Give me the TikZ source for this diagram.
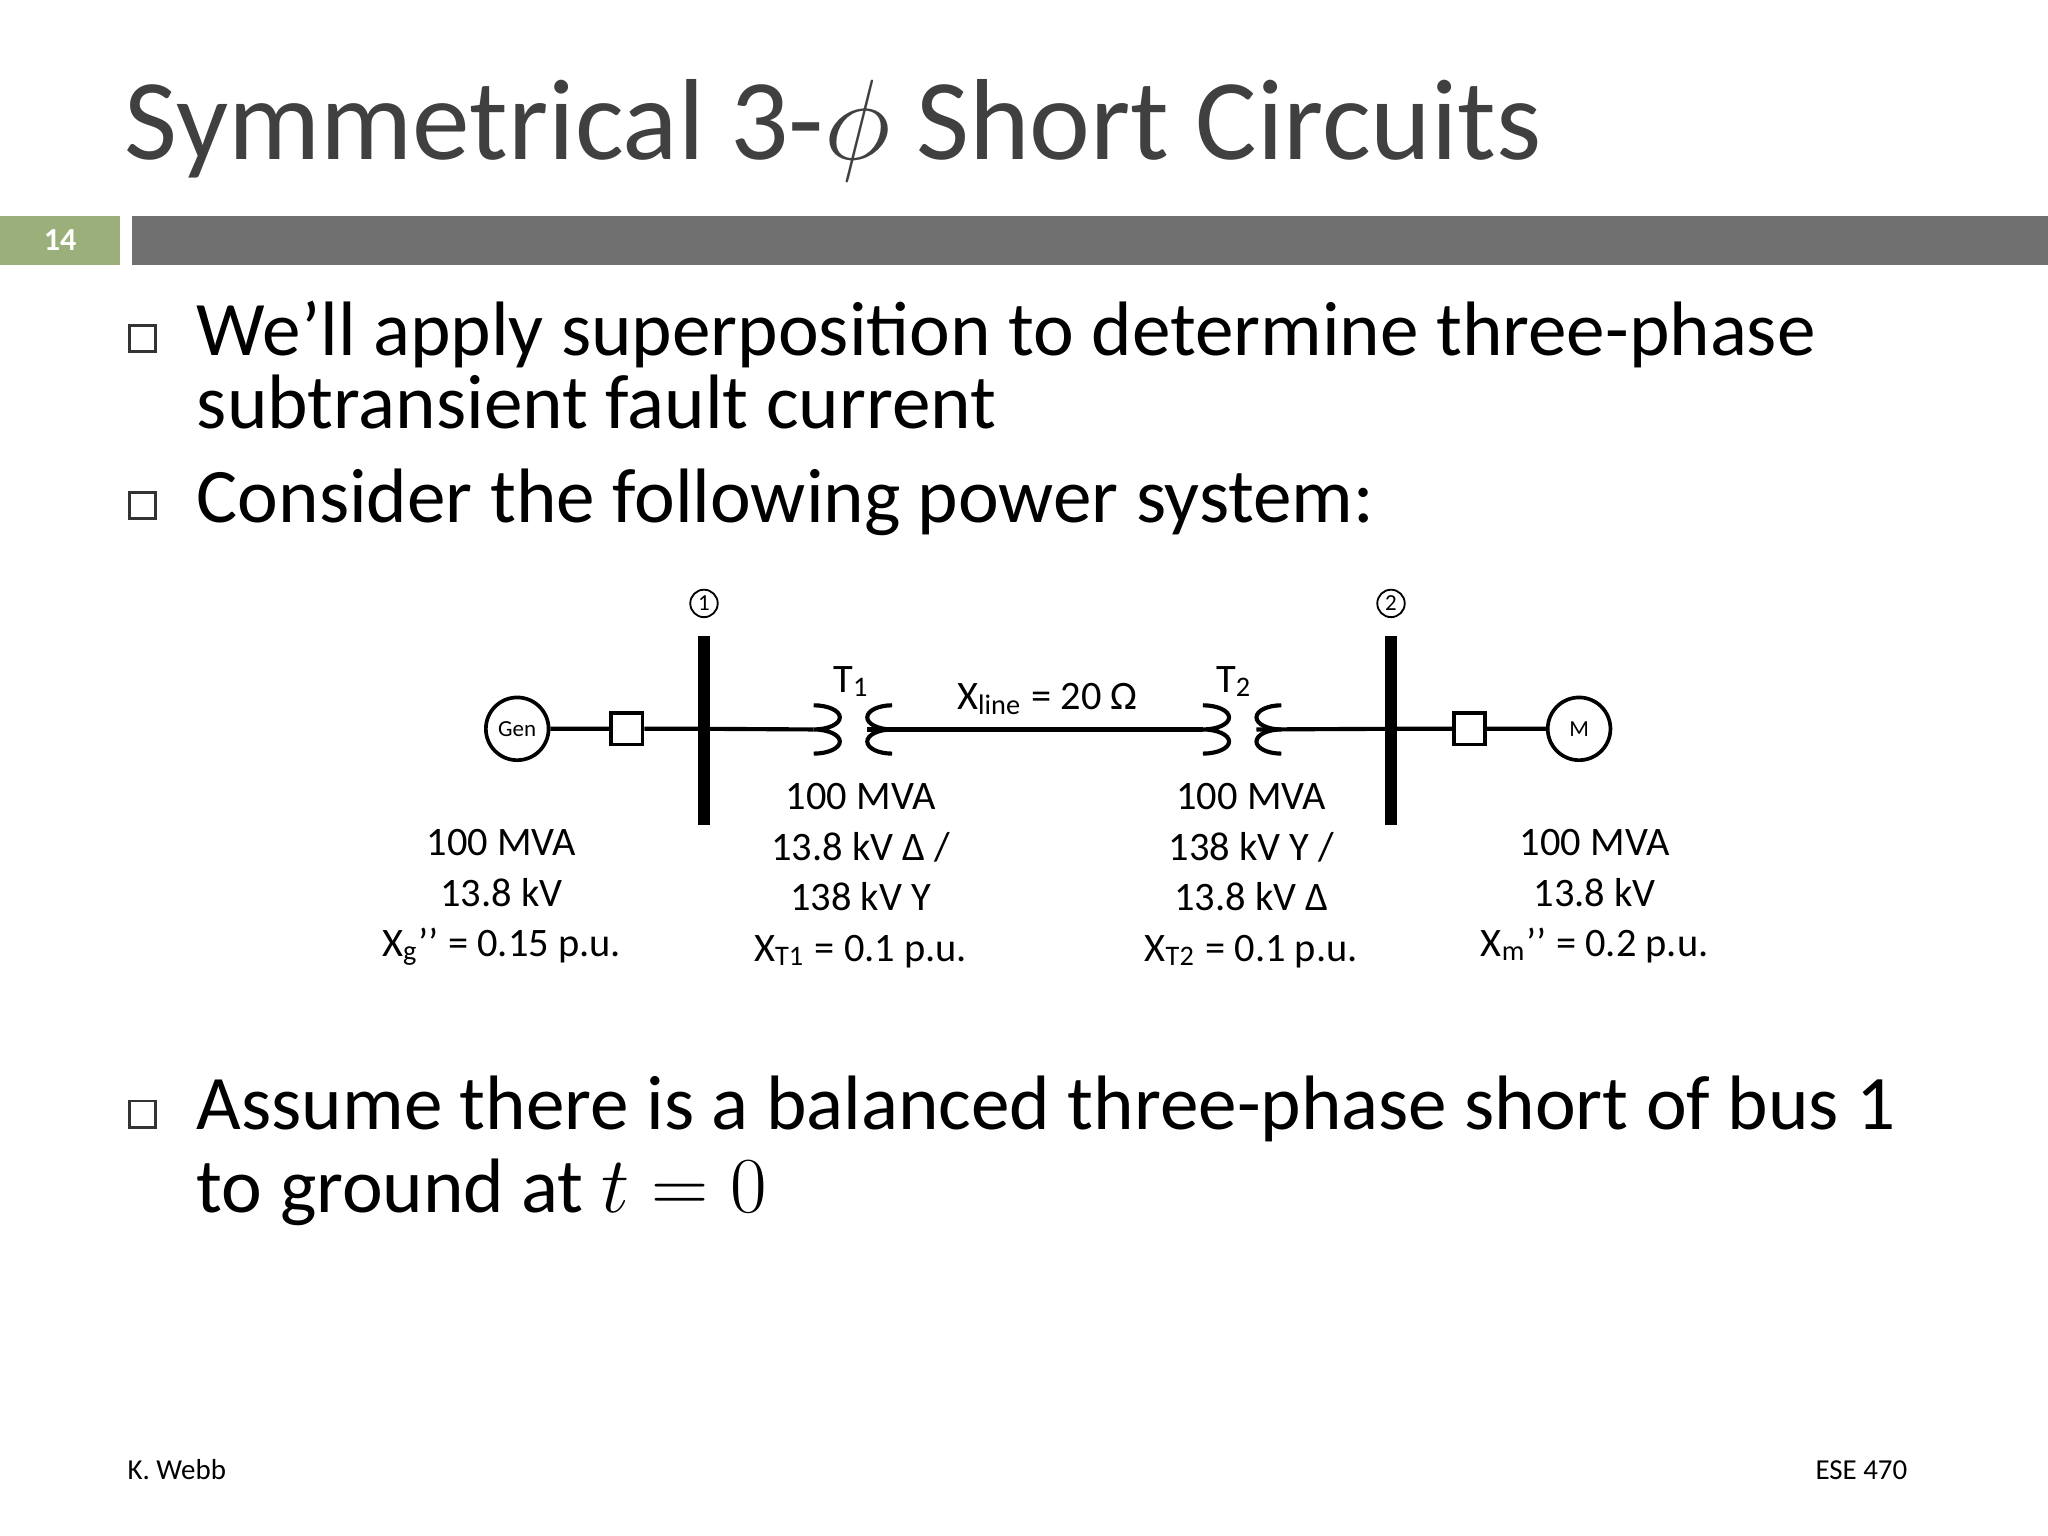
\documentclass[tikz,border=0pt]{standalone}
\usepackage{fontspec}
\setmainfont{Carlito}
\begin{document}
\begin{tikzpicture}[x=0.01cm,y=-0.01cm,
  lbl/.style={font=\fontsize{8.8}{10}\selectfont, anchor=base, inner sep=0},
  bul/.style={font=\fontsize{16.8}{20}\selectfont, anchor=base west, inner sep=0},
  bbox/.style={draw=black!80, line width=0.6pt, minimum size=0.2cm, inner sep=0},
  wire/.style={line width=0.9pt},
  busline/.style={line width=2.6pt},
  mach/.style={circle, draw, line width=0.8pt, minimum size=0.48cm, inner sep=0, font=\fontsize{5}{6}\selectfont},
  brk/.style={draw, line width=0.8pt, minimum size=0.24cm, inner sep=0},
  busnum/.style={circle, draw, line width=0.4pt, minimum size=0.21cm, inner sep=0, font=\fontsize{5}{6}\selectfont}]
\useasboundingbox (0,0) rectangle (1568,1176);
\definecolor{titlegray}{HTML}{404040}
\definecolor{bargray}{HTML}{707070}
\definecolor{olive}{HTML}{9BAF7A}
% title
\node[anchor=base west, inner sep=0, text=titlegray, font=\fontsize{25.1}{30}\selectfont] (title) at (95,122) {Symmetrical 3-$\phi$ Short Circuits};
\fill[olive] (0,165) rectangle (92,203);
\fill[bargray] (101,165) rectangle (1568,203);
\node[text=white, font=\fontsize{7}{8}\selectfont\bfseries] (pg) at (46,184) {14};
% bullets
\node[bbox] (b1) at (109,259) {};
\node[bbox] (b2) at (109,387) {};
\node[bbox] (b3) at (109,853) {};
\node[bul] (t1) at (150,272) {We’ll apply superposition to determine three-phase};
\node[bul] (t1b) at (150,328) {subtransient fault current};
\node[bul] (t2) at (150,400) {Consider the following power system:};
\node[bul] (t3) at (150,865) {Assume there is a balanced three-phase short of bus 1};
\node[bul] (t3b) at (150,928) {to ground at $t=0$};
% diagram
\node[busnum] (n1) at (539,462) {1};
\node[busnum] (n2) at (1065,462) {2};
\coordinate (bus1t) at (539,487); \coordinate (bus1b) at (539,632);
\coordinate (bus2t) at (1065,487); \coordinate (bus2b) at (1065,632);
\draw[busline] (bus1t) -- (bus1b);
\draw[busline] (bus2t) -- (bus2b);
\node[mach] (gen) at (396,558) {Gen};
\node[brk] (cb1) at (480,558) {};
\node[mach] (mot) at (1209,558) {M};
\node[brk] (cb2) at (1125,558) {};
\coordinate (b1m) at (539,558); \coordinate (b2m) at (1065,558);
\coordinate (t1a) at (623,558.5); \coordinate (t1c) at (664,558.5);
\coordinate (t2a) at (921,558.5); \coordinate (t2c) at (962,558.5);
\draw[wire] (gen) -- (cb1) -- (b1m) -- (t1a);
\draw[wire] (t1c) -- (t2a);
\draw[wire] (t2c) -- (b2m) -- (cb2) -- (mot);
% coils
\foreach \a/\c in {t1a/t1c, t2a/t2c}{
  \draw[wire] ([yshift=18.5*0.01cm]\a) arc[start angle=90,end angle=-90,x radius=20*0.01cm,y radius=9.25*0.01cm]
                                      arc[start angle=90,end angle=-90,x radius=20*0.01cm,y radius=9.25*0.01cm];
  \draw[wire] ([yshift=18.5*0.01cm,xshift=19*0.01cm]\c) arc[start angle=90,end angle=270,x radius=19*0.01cm,y radius=9.25*0.01cm]
                                      arc[start angle=90,end angle=270,x radius=19*0.01cm,y radius=9.25*0.01cm];
}
\node[lbl] (T1) at (652,530) {T\textsubscript{1}};
\node[lbl] (T2) at (945,530) {T\textsubscript{2}};
\node[lbl] (xl) at (802,543) {X\textsubscript{line} = 20 Ω};
% text labels
\node[lbl] (g1) at (384,655) {100 MVA};
\node[lbl] (g2) at (384,694) {13.8 kV};
\node[lbl] (g3) at (384,732) {X\textsubscript{g}’’ = 0.15 p.u.};
\node[lbl] (a1) at (659,620) {100 MVA};
\node[lbl] (a2) at (659,659) {13.8 kV Δ /};
\node[lbl] (a3) at (659,697) {138 kV Y};
\node[lbl] (a4) at (659,736) {X\textsubscript{T1} = 0.1 p.u.};
\node[lbl] (c1) at (958,620) {100 MVA};
\node[lbl] (c2) at (958,659) {138 kV Y /};
\node[lbl] (c3) at (958,697) {13.8 kV Δ};
\node[lbl] (c4) at (958,736) {X\textsubscript{T2} = 0.1 p.u.};
\node[lbl] (m1) at (1221,655) {100 MVA};
\node[lbl] (m2) at (1221,694) {13.8 kV};
\node[lbl] (m3) at (1221,732) {X\textsubscript{m}’’ = 0.2 p.u.};
% footer
\node[anchor=base west, inner sep=0, font=\fontsize{6.3}{7}\selectfont] (f1) at (97,1133) {K. Webb};
\node[anchor=base east, inner sep=0, font=\fontsize{6.3}{7}\selectfont] (f2) at (1461,1133) {ESE 470};
\end{tikzpicture}
\end{document}
